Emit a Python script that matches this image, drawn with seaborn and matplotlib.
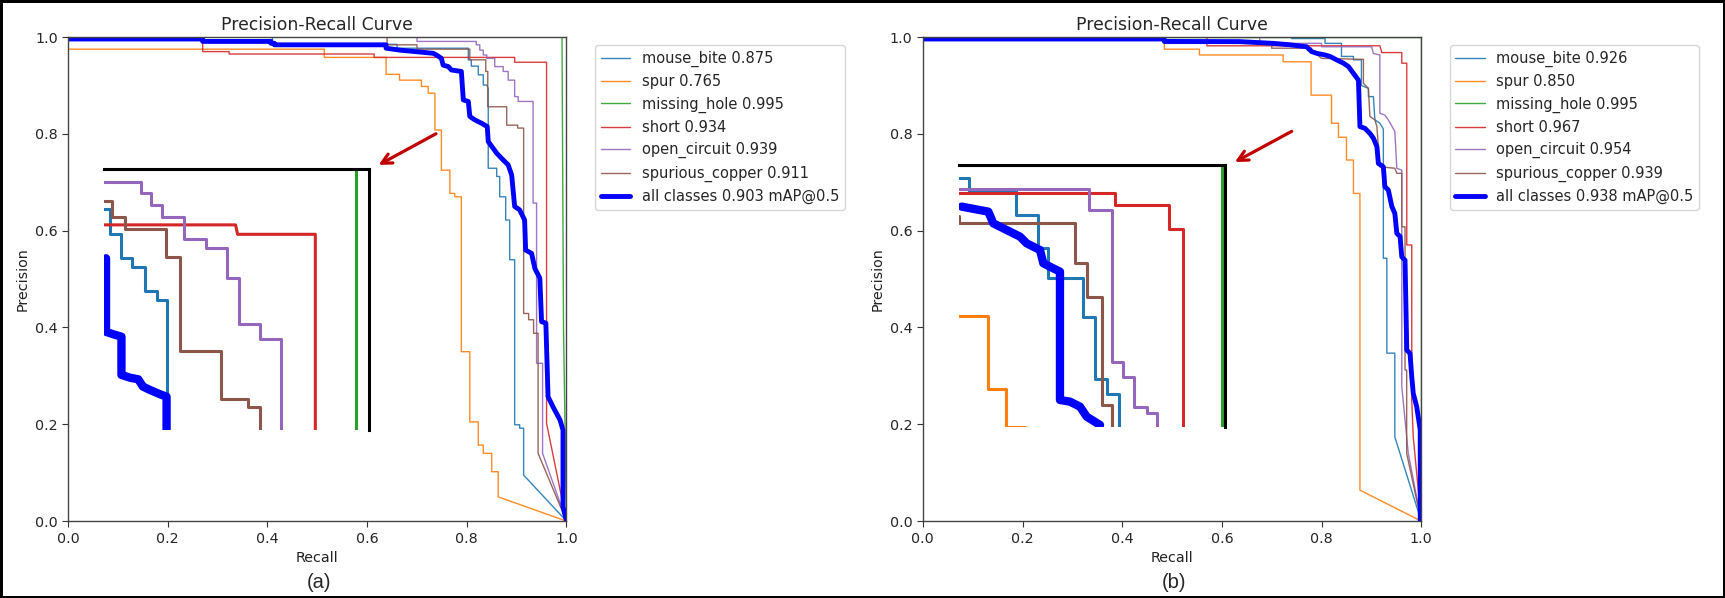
import matplotlib
matplotlib.use("Agg")
import matplotlib.pyplot as plt
import seaborn as sns
import pandas as pd

classes = ["mouse_bite", "spur", "missing_hole", "short", "open_circuit", "spurious_copper"]
ap_a = [0.875, 0.765, 0.995, 0.934, 0.939, 0.911]
map_a = 0.903
ap_b = [0.926, 0.850, 0.995, 0.967, 0.954, 0.939]
map_b = 0.938

# ---- panel (a): main curves (recall, precision) ----
a_mouse_bite = [(0.0, 1.0), (0.41, 1.0), (0.41, 0.985), (0.66, 0.985), (0.66, 0.977), (0.803, 0.977),
                (0.803, 0.953), (0.809, 0.953), (0.809, 0.94), (0.823, 0.94), (0.823, 0.922), (0.833, 0.922),
                (0.833, 0.901), (0.84, 0.901), (0.843, 0.894), (0.843, 0.729), (0.86, 0.729), (0.86, 0.712),
                (0.866, 0.712), (0.866, 0.67), (0.878, 0.67), (0.878, 0.622), (0.886, 0.622), (0.886, 0.54),
                (0.896, 0.54), (0.896, 0.199), (0.906, 0.199), (0.906, 0.192), (0.914, 0.192), (0.914, 0.095),
                (1.0, 0.0)]
a_spur = [(0.0, 0.975), (0.514, 0.975), (0.514, 0.958), (0.638, 0.958), (0.638, 0.923), (0.665, 0.923),
          (0.665, 0.911), (0.709, 0.911), (0.709, 0.898), (0.7225, 0.898), (0.7225, 0.884), (0.736, 0.884),
          (0.736, 0.808), (0.749, 0.808), (0.749, 0.725), (0.766, 0.725), (0.766, 0.677), (0.776, 0.677),
          (0.776, 0.670), (0.789, 0.670), (0.789, 0.350), (0.806, 0.350), (0.806, 0.205), (0.823, 0.205),
          (0.823, 0.157), (0.833, 0.157), (0.833, 0.14), (0.85, 0.14), (0.85, 0.102), (0.863, 0.102),
          (0.863, 0.05), (1.0, 0.0)]
a_missing_hole = [(0.0, 1.0), (0.991, 1.0), (0.994, 0.4), (1.0, 0.0)]
a_short = [(0.0, 1.0), (0.27, 1.0), (0.27, 0.97), (0.323, 0.97), (0.323, 0.965), (0.614, 0.965),
           (0.614, 0.958), (0.896, 0.958), (0.896, 0.948), (0.96, 0.948), (0.96, 0.202), (1.0, 0.0)]
a_open_circuit = [(0.0, 1.0), (0.70, 1.0), (0.70, 0.991), (0.819, 0.991), (0.819, 0.984), (0.826, 0.984),
                  (0.826, 0.973), (0.833, 0.973), (0.833, 0.963), (0.84, 0.963), (0.84, 0.956), (0.856, 0.956),
                  (0.856, 0.939), (0.873, 0.939), (0.873, 0.929), (0.883, 0.929), (0.883, 0.911), (0.896, 0.911),
                  (0.896, 0.877), (0.903, 0.877), (0.903, 0.867), (0.933, 0.867), (0.933, 0.657), (0.94, 0.657),
                  (0.94, 0.326), (0.952, 0.326), (0.952, 0.14), (1.0, 0.0)]
a_spurious_copper = [(0.0, 1.0), (0.64, 1.0), (0.64, 0.984), (0.70, 0.984), (0.70, 0.975), (0.806, 0.975),
                     (0.806, 0.953), (0.838, 0.953), (0.838, 0.929), (0.842, 0.929), (0.842, 0.856), (0.88, 0.856),
                     (0.88, 0.818), (0.902, 0.818), (0.902, 0.812), (0.914, 0.812), (0.914, 0.429), (0.924, 0.429),
                     (0.924, 0.416), (0.934, 0.416), (0.934, 0.388), (0.943, 0.388), (0.943, 0.14), (1.0, 0.0)]
a_all = [(0.0, 0.996), (0.27, 0.996), (0.27, 0.991), (0.407, 0.991), (0.407, 0.987), (0.414, 0.987),
         (0.414, 0.984), (0.638, 0.984), (0.638, 0.977), (0.666, 0.973), (0.7325, 0.9665), (0.739, 0.963),
         (0.749, 0.956), (0.7525, 0.942), (0.763, 0.939), (0.769, 0.932), (0.789, 0.929), (0.793, 0.87),
         (0.803, 0.867), (0.806, 0.836), (0.816, 0.829), (0.8295, 0.822), (0.841, 0.815), (0.843, 0.784),
         (0.853, 0.770), (0.86, 0.76), (0.873, 0.746), (0.883, 0.736), (0.89, 0.715), (0.896, 0.65),
         (0.906, 0.643), (0.916, 0.622), (0.918, 0.56), (0.93, 0.553), (0.9365, 0.522), (0.9465, 0.502),
         (0.95, 0.412), (0.9586, 0.409), (0.963, 0.257), (0.973, 0.236), (0.987, 0.209), (0.993, 0.188),
         (0.993, 0.03), (1.0, 0.0)]

# ---- panel (a): zoomed inset curves ----
ai_mouse_bite = [(0.072, 0.644), (0.085, 0.644), (0.085, 0.5925), (0.107, 0.5925), (0.107, 0.544), (0.129, 0.544),
                 (0.129, 0.524), (0.154, 0.524), (0.154, 0.476), (0.1775, 0.476), (0.1775, 0.457), (0.1975, 0.457),
                 (0.1975, 0.18)]
ai_missing_hole = [(0.072, 0.727), (0.577, 0.727), (0.577, 0.18)]
ai_short = [(0.072, 0.612), (0.336, 0.612), (0.34, 0.5925), (0.496, 0.5925), (0.496, 0.18)]
ai_open_circuit = [(0.072, 0.701), (0.146, 0.701), (0.146, 0.677), (0.167, 0.677), (0.167, 0.653), (0.1875, 0.653),
                   (0.1875, 0.628), (0.233, 0.628), (0.233, 0.583), (0.276, 0.583), (0.276, 0.564), (0.318, 0.564),
                   (0.318, 0.503), (0.343, 0.503), (0.343, 0.408), (0.385, 0.408), (0.385, 0.376), (0.427, 0.376),
                   (0.427, 0.18)]
ai_spurious_copper = [(0.072, 0.661), (0.089, 0.661), (0.089, 0.629), (0.115, 0.629), (0.115, 0.603), (0.196, 0.603),
                      (0.196, 0.546), (0.224, 0.546), (0.224, 0.351), (0.3065, 0.351), (0.3065, 0.252), (0.361, 0.252),
                      (0.361, 0.236), (0.385, 0.236), (0.385, 0.18)]
ai_all = [(0.076, 0.543), (0.076, 0.391), (0.0905, 0.386), (0.107, 0.381), (0.107, 0.302), (0.125, 0.296),
          (0.1407, 0.293), (0.150, 0.278), (0.164, 0.271), (0.1845, 0.262), (0.1975, 0.257), (0.1975, 0.18)]

# ---- panel (b): main curves ----
b_mouse_bite = [(0.0, 1.0), (0.74, 1.0), (0.74, 0.997), (0.807, 0.997), (0.807, 0.987), (0.84, 0.987),
                (0.84, 0.96), (0.864, 0.96), (0.864, 0.953), (0.88, 0.953), (0.88, 0.90), (0.894, 0.894),
                (0.894, 0.877), (0.904, 0.877), (0.907, 0.829), (0.917, 0.822), (0.924, 0.81), (0.924, 0.543),
                (0.931, 0.543), (0.931, 0.347), (0.947, 0.347), (0.947, 0.174), (1.0, 0.0)]
b_spur = [(0.0, 1.0), (0.4845, 1.0), (0.4845, 0.975), (0.555, 0.975), (0.555, 0.963), (0.723, 0.963),
          (0.723, 0.949), (0.779, 0.949), (0.779, 0.88), (0.82, 0.88), (0.82, 0.822), (0.834, 0.822),
          (0.834, 0.793), (0.85, 0.793), (0.85, 0.746), (0.864, 0.746), (0.864, 0.677), (0.877, 0.677),
          (0.877, 0.064), (1.0, 0.0)]
b_missing_hole = [(0.0, 1.0), (0.999, 1.0), (0.999, 0.0)]
b_short = [(0.0, 1.0), (0.57, 1.0), (0.57, 0.982), (0.917, 0.982), (0.921, 0.968), (0.961, 0.968),
           (0.961, 0.946), (0.971, 0.946), (0.971, 0.5705), (0.981, 0.5705), (0.981, 0.25), (0.984, 0.174),
           (1.0, 0.0)]
b_open_circuit = [(0.0, 1.0), (0.676, 1.0), (0.676, 0.987), (0.80, 0.987), (0.80, 0.98), (0.9005, 0.98),
                  (0.904, 0.966), (0.917, 0.963), (0.917, 0.8425), (0.927, 0.839), (0.934, 0.829), (0.947, 0.805),
                  (0.951, 0.729), (0.961, 0.725), (0.961, 0.278), (0.974, 0.14), (1.0, 0.0)]
b_spurious_copper = [(0.0, 1.0), (0.4845, 1.0), (0.4845, 0.987), (0.70, 0.987), (0.70, 0.977), (0.78, 0.977),
                     (0.78, 0.973), (0.80, 0.956), (0.884, 0.954), (0.884, 0.9045), (0.894, 0.894), (0.897, 0.836),
                     (0.907, 0.829), (0.911, 0.815), (0.917, 0.732), (0.947, 0.729), (0.951, 0.7185), (0.961, 0.7185),
                     (0.961, 0.608), (0.9675, 0.608), (0.9675, 0.312), (0.9708, 0.312), (0.9708, 0.14), (1.0, 0.0)]
b_all = [(0.0, 0.996), (0.4845, 0.996), (0.4845, 0.991), (0.636, 0.9906), (0.703, 0.987), (0.737, 0.984),
         (0.770, 0.980), (0.780, 0.970), (0.790, 0.9665), (0.807, 0.963), (0.817, 0.960), (0.830, 0.953),
         (0.844, 0.946), (0.854, 0.939), (0.864, 0.925), (0.874, 0.911), (0.877, 0.815), (0.887, 0.8115),
         (0.897, 0.801), (0.904, 0.791), (0.911, 0.774), (0.914, 0.739), (0.924, 0.732), (0.927, 0.691),
         (0.934, 0.684), (0.941, 0.650), (0.947, 0.636), (0.951, 0.5945), (0.9575, 0.588), (0.961, 0.546),
         (0.9675, 0.539), (0.971, 0.3535), (0.9775, 0.3466), (0.981, 0.298), (0.984, 0.264), (0.991, 0.236),
         (0.998, 0.188), (0.998, 0.0)]

# ---- panel (b): zoomed inset curves ----
bi_mouse_bite = [(0.073, 0.708), (0.093, 0.708), (0.093, 0.681), (0.187, 0.681), (0.187, 0.632), (0.232, 0.632),
                 (0.232, 0.5636), (0.2517, 0.5636), (0.2517, 0.5016), (0.3206, 0.5016), (0.3206, 0.421),
                 (0.3454, 0.421), (0.3454, 0.2929), (0.3701, 0.2929), (0.3701, 0.2626), (0.3936, 0.2626),
                 (0.3936, 0.18)]
bi_spur = [(0.073, 0.424), (0.131, 0.424), (0.131, 0.272), (0.167, 0.272), (0.167, 0.195), (0.205, 0.195)]
bi_missing_hole = [(0.073, 0.736), (0.601, 0.736), (0.601, 0.18)]
bi_short = [(0.073, 0.6786), (0.3855, 0.6786), (0.3855, 0.6531), (0.4945, 0.6531), (0.4945, 0.6028),
            (0.5213, 0.6028), (0.5213, 0.18)]
bi_open_circuit = [(0.073, 0.6855), (0.334, 0.6855), (0.334, 0.6428), (0.3788, 0.6428), (0.3788, 0.3294),
                   (0.4022, 0.3294), (0.4022, 0.297), (0.4243, 0.297), (0.4243, 0.2364), (0.449, 0.2364),
                   (0.449, 0.224), (0.4691, 0.224), (0.4691, 0.18)]
bi_spurious_copper = [(0.073, 0.6304), (0.073, 0.6152), (0.3046, 0.6152), (0.3046, 0.534), (0.33, 0.534),
                      (0.33, 0.4623), (0.3588, 0.4623), (0.3588, 0.2399), (0.3788, 0.2399), (0.3788, 0.18)]
bi_all = [(0.0778, 0.6497), (0.1313, 0.6393), (0.1413, 0.6152), (0.1681, 0.6014), (0.1949, 0.5877),
          (0.2082, 0.5739), (0.235, 0.5601), (0.2417, 0.5326), (0.2617, 0.5222), (0.2751, 0.5154),
          (0.2751, 0.2502), (0.2952, 0.2468), (0.3153, 0.2364), (0.3287, 0.2158), (0.3555, 0.1986)]


def curve(pts):
    return pd.DataFrame(pts, columns=["recall", "precision"])


sns.set_style("ticks")
plt.rcParams["font.family"] = ["DejaVu Sans"]
colors = sns.color_palette("tab10")[:6]

fig = plt.figure(figsize=(17.25, 5.98), dpi=100)
fig.patch.set_edgecolor("black")
fig.patch.set_linewidth(2.5)

panels = [
    dict(left=0.0395, main=[a_mouse_bite, a_spur, a_missing_hole, a_short, a_open_circuit, a_spurious_copper],
         all=a_all, inset=[ai_mouse_bite, None, ai_missing_hole, ai_short, ai_open_circuit, ai_spurious_copper],
         inset_all=ai_all, ap=ap_a, mAP=map_a, box=(0.072, 0.188, 0.603, 0.727),
         arrow=((0.743, 0.803), (0.618, 0.733)), caption="(a)"),
    dict(left=0.535, main=[b_mouse_bite, b_spur, b_missing_hole, b_short, b_open_circuit, b_spurious_copper],
         all=b_all, inset=[bi_mouse_bite, bi_spur, bi_missing_hole, bi_short, bi_open_circuit, bi_spurious_copper],
         inset_all=bi_all, ap=ap_b, mAP=map_b, box=(0.073, 0.195, 0.606, 0.736),
         arrow=((0.745, 0.808), (0.621, 0.739)), caption="(b)"),
]

for pn in panels:
    ax = fig.add_axes([pn["left"], 0.1286, 0.2889, 0.8094])
    for name, pts, ap, c in zip(classes, pn["main"], pn["ap"], colors):
        d = curve(pts)
        sns.lineplot(data=d, x="recall", y="precision", sort=False, estimator=None, ax=ax,
                     color=c, linewidth=1.0, alpha=0.9, label=f"{name} {ap:.3f}")
    d = curve(pn["all"])
    sns.lineplot(data=d, x="recall", y="precision", sort=False, estimator=None, ax=ax,
                 color="blue", linewidth=3.5, label=f"all classes {pn['mAP']:.3f} mAP@0.5")

    ax.set_xlim(0, 1)
    ax.set_ylim(0, 1)
    ax.set_xticks([0, 0.2, 0.4, 0.6, 0.8, 1.0])
    ax.set_yticks([0, 0.2, 0.4, 0.6, 0.8, 1.0])
    ax.tick_params(labelsize=10.3, length=4, color="#333333")
    ax.set_xlabel("Recall", fontsize=10.3, color="#222222")
    ax.set_ylabel("Precision", fontsize=10.3, color="#222222")
    ax.set_title("Precision-Recall Curve", fontsize=12.4, pad=5)
    for s in ax.spines.values():
        s.set_color("#444444")
        s.set_linewidth(1.0)
    ax.legend(loc="upper left", bbox_to_anchor=(1.057, 0.984), borderaxespad=0, fontsize=10.5)

    # zoomed inset sitting inside the main plot
    x0, y0, x1, y1 = pn["box"]
    ins = ax.inset_axes([x0, y0, x1 - x0, y1 - y0], transform=ax.transData)
    ins.set_xlim(x0, x1)
    ins.set_ylim(y0, y1)
    ins.patch.set_alpha(0)
    ins.set_xticks([])
    ins.set_yticks([])
    ins.spines["left"].set_visible(False)
    ins.spines["bottom"].set_visible(False)
    for side in ["top", "right"]:
        ins.spines[side].set_color("black")
        ins.spines[side].set_linewidth(2.2)
    for pts, c in zip(pn["inset"], colors):
        if pts is None:
            continue
        sns.lineplot(data=curve(pts), x="recall", y="precision", sort=False, estimator=None,
                     ax=ins, color=c, linewidth=2.2)
    sns.lineplot(data=curve(pn["inset_all"]), x="recall", y="precision", sort=False, estimator=None,
                 ax=ins, color="blue", linewidth=6)
    ins.set_xlabel("")
    ins.set_ylabel("")

    tail, head = pn["arrow"]
    ax.annotate("", xy=head, xytext=tail,
                arrowprops=dict(arrowstyle="->", color="#c00000", lw=2.3, mutation_scale=18))

    cx = pn["left"] + 0.2889 / 2
    fig.text(cx + 0.001, 0.026, pn["caption"], ha="center", va="center",
             fontsize=14.5, family=["Liberation Sans", "DejaVu Sans"])

fig.savefig("out.png", dpi=100, edgecolor=fig.get_edgecolor())
